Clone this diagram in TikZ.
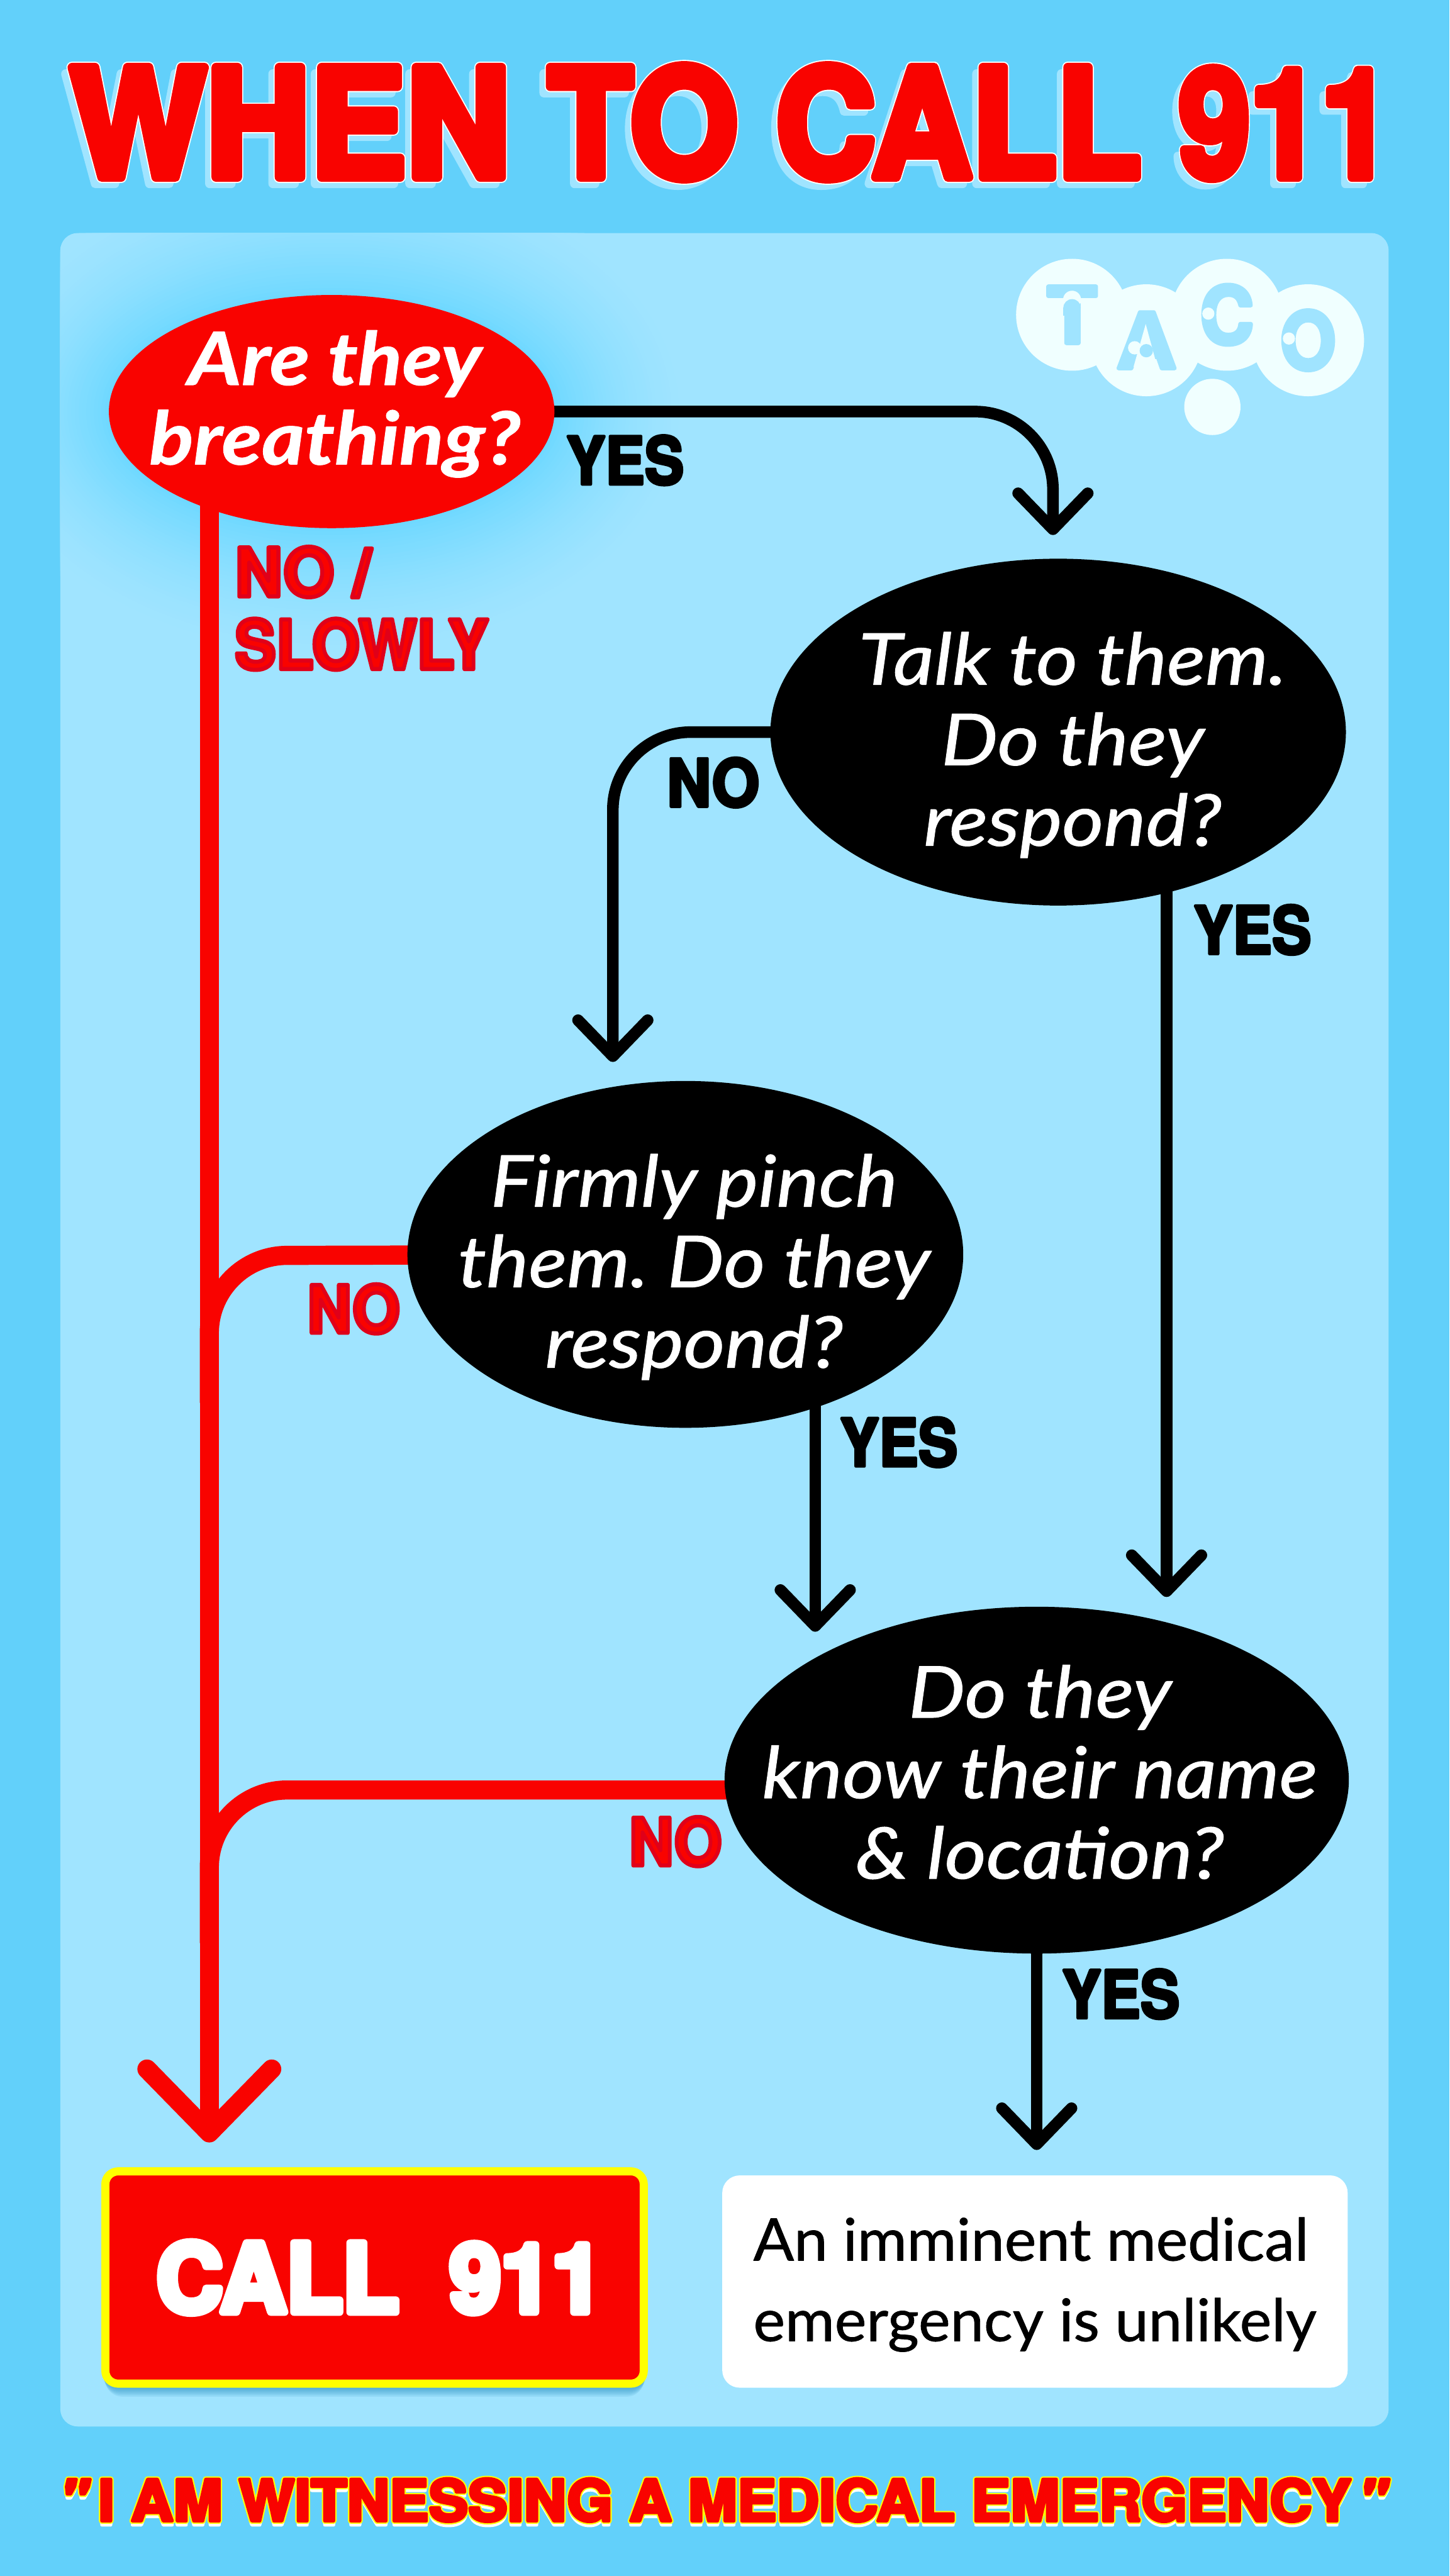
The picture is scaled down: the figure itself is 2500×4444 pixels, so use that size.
\documentclass[tikz,border=0pt]{standalone}
\usepackage{fontspec}
\usepackage{graphicx}
\usetikzlibrary{arrows.meta,shapes.geometric,calc}
\newfontfamily\hvfam{TeX Gyre Heros}[WordSpace=0.75]
\newfontfamily\hvtitle{TeX Gyre Heros}[WordSpace=0.2]
\newfontfamily\hvobl{TeX Gyre Heros}
\newfontfamily\bodyfam{Lato}[FakeStretch=1.12]
\newfontfamily\boxfam{Lato}[FakeStretch=1.025]
\newcommand\hv{\hvfam\bfseries}
\definecolor{pagebg}{HTML}{62D0FA}
\definecolor{panelbg}{HTML}{A0E4FF}
\definecolor{glowc}{HTML}{6ED8FF}
\definecolor{hotred}{HTML}{F90300}
\definecolor{logow}{HTML}{F0FFFF}
\definecolor{darkred}{HTML}{A00028}
\definecolor{sunny}{HTML}{FFFF00}
% stroked text: #1 = stroke rgb, #2 = stroke width, #3 = text
\newcommand\stk[3]{\special{pdf:code #1 RG #2 w 1 j 2 Tr}#3\special{pdf:code 0 Tr 1 w}}
\newcommand\fit[3]{\resizebox{#1\dimexpr0.01cm\relax}{#2\dimexpr0.01cm\relax}{#3}}
\newcommand\ctext[2][0cm]{\makebox[0pt][c]{\hspace*{#1}\smash{\stk{1 1 1}{0.35}{\begin{tabular}{@{}c@{}}#2\end{tabular}}}}}
\newcommand\tagtext{\hvfam\bfseries{\hvobl\bfseries\itshape"}\hspace{0.2em}I AM WITNESSING A MEDICAL EMERGENCY\hspace{0.1em}{\hvobl\bfseries\itshape"}}
\newcommand\titletext{\hvtitle\bfseries\scalebox{1.06}[1]{WHEN} \scalebox{1.02}[1]{TO} \scalebox{1.02}[1]{CALL} \scalebox{0.94}[1]{911}}
\pgfdeclarelayer{backdrop}
\pgfdeclarelayer{edges}
\pgfsetlayers{backdrop,edges,main}
\tikzset{
  x=0.01cm,y=-0.01cm,
  decision/.style={shape=ellipse,fill=black,text=white,inner sep=0pt,outer sep=0pt},
  qfont/.style={font=\bodyfam\itshape\frenchspacing\fontsize{35}{39.5}\selectfont},
  blackline/.style={line width=0.2cm,draw=black,rounded corners=1.34cm,
    -{Straight Barb[round,length=0.62cm,width=1.2cm]}},
  redline/.style={line width=0.33cm,draw=hotred,rounded corners=1.34cm},
  redshadow/.style={preaction={draw=darkred,transform canvas={yshift=-0.03cm}}},
  redtip/.style={-{Straight Barb[round,length=1.1cm,width=2.15cm]}},
  ylabel/.style={inner sep=0pt,outer sep=0pt,text=black},
  nlabel/.style={inner sep=0pt,outer sep=0pt,text=hotred},
  logoc/.style={shape=circle,fill=logow,text=panelbg,inner sep=0pt,minimum size=1.93cm},
}
\newcommand\blk[1]{\stk{0 0 0}{0.45}{\hv #1}}
\newcommand\rdl[1]{\stk{0.88 0 0.1}{0.6}{\hv #1}}
\begin{document}
\begin{tikzpicture}
\useasboundingbox (0,0) rectangle (2500,4444);
% ---------- nodes
\node[decision,fill=hotred,minimum width=7.68cm,minimum height=4.02cm] (breath) at (572,710)
  {\fontsize{36}{39}\selectfont\bodyfam\bfseries\itshape\raisebox{-0.34cm}{\ctext[0.11cm]{Are they\\breathing?}}};
\node[decision,qfont,minimum width=9.92cm,minimum height=5.98cm] (talk) at (1825,1263)
  {\raisebox{-1.02cm}{\ctext[0.5cm]{Talk to them.\\Do they\\respond?}}};
\node[decision,qfont,minimum width=9.58cm,minimum height=5.98cm] (pinch) at (1182,2164)
  {\raisebox{-1.01cm}{\ctext[0.3cm]{Firmly pinch\\them. Do they\\respond?}}};
\node[decision,qfont,minimum width=10.76cm,minimum height=5.98cm] (know) at (1788,3071)
  {\raisebox{-0.50cm}{\ctext[0.11cm]{Do they\\know their name\\\& location?}}};
\node[draw=sunny,line width=0.14cm,fill=hotred,text=white,rounded corners=0.22cm,inner sep=0pt,
  minimum width=9.28cm,minimum height=3.66cm] (call) at (646,3929)
  {\hspace*{0.18cm}\fit{770}{121}{\stk{1 1 1}{0.8}{\hv CALL\ \ 911}}};
\node[fill=white,text=black,rounded corners=0.3cm,inner sep=0pt,align=left,
  minimum width=10.78cm,minimum height=3.66cm,
  font=\boxfam\fontsize{28.8}{39.5}\selectfont] (safe) at (1785,3936)
  {\rule{0pt}{0.85cm}\stk{0 0 0}{0.25}{An imminent medical}\\\stk{0 0 0}{0.25}{emergency is unlikely}};
% arrow end points
\coordinate (tipa) at (1816,923);
\coordinate (tipb) at (1057,1832);
\coordinate (tipc) at (2012,2755);
\coordinate (tipd) at (1406,2815);
\coordinate (tipe) at (1788,3709);
\coordinate (tipf) at (361,3696);
\coordinate (joinA) at (361,2166);
\coordinate (joinB) at (361,3088);
\coordinate (endA) at (361,2420);
\coordinate (endB) at (361,3352);
% ---------- backdrop
\begin{pgfonlayer}{backdrop}
\fill[pagebg] (0,0) rectangle (2500,4444);
\fill[panelbg,rounded corners=0.3cm] (104,402) rectangle (2395,4186);
\begin{scope}
\clip[rounded corners=0.3cm] (104,402) rectangle (2395,4186);
\foreach \i in {36,35,...,0}{
  \pgfmathsetmacro\pct{100*(1-\i/36)^1.6}
  \fill[glowc!\pct!panelbg] (572,710) ellipse [x radius=384+\i*6.5, y radius=200+\i*6.5];
}
\end{scope}
\foreach \i in {1,...,6}{
  \fill[black!60!blue!55!cyan,opacity=0.09,rounded corners=0.3cm]
    (175+\i,3745+\i) rectangle (1117-\i,4119+\i*2.6);
}
\end{pgfonlayer}
% ---------- connectors
\begin{pgfonlayer}{edges}
\draw[blackline] (breath.center) -- (tipa |- breath.center) -- (tipa);
\draw[blackline] (talk.center) -- (tipb |- talk.center) -- (tipb);
\draw[blackline] (tipc |- talk.center) -- (tipc);
\draw[blackline] (tipd |- pinch.center) -- (tipd);
\draw[blackline] (tipe |- know.center) -- (tipe);
\draw[redline,redshadow] (pinch.center) -- (joinA) -- (endA);
\draw[redline,redshadow] (know.center |- joinB) -- (joinB) -- (endB);
\draw[redline,redshadow,redtip] (tipf |- breath.center) -- (tipf);
\end{pgfonlayer}
% ---------- title and tagline
\node[inner sep=0pt,text=panelbg] (titleback) at (1250,222)
  {\fit{2280}{192}{\stk{0.627 0.894 1}{0.62}{\titletext}}};
\node[inner sep=0pt,text=white] (titleedge) at (1261,211)
  {\fit{2280}{192}{\stk{1 1 1}{0.78}{\titletext}}};
\node[inner sep=0pt,text=hotred] (title) at (1261,211)
  {\fit{2280}{192}{\stk{0.976 0.012 0}{0.62}{\titletext}}};
\node[inner sep=0pt,text=white] (tagback) at (1245,4320)
  {\fit{2288}{73}{\stk{1 1 1}{0.55}{\tagtext}}};
\node[inner sep=0pt,text=sunny] (tagedge) at (1245,4313)
  {\fit{2288}{73}{\stk{1 1 0}{1.0}{\tagtext}}};
\node[inner sep=0pt,text=hotred] (tag) at (1245,4313)
  {\fit{2288}{73}{\stk{0.976 0.012 0}{0.55}{\tagtext}}};
% ---------- labels
\node[ylabel] (yes1) at (1078,794) {\fit{203}{84}{\blk{YES}}};
\node[ylabel] (yes2) at (2160,1604) {\fit{203}{84}{\blk{YES}}};
\node[ylabel] (yes3) at (1550,2488) {\fit{203}{84}{\blk{YES}}};
\node[ylabel] (yes4) at (1933,3440) {\fit{203}{84}{\blk{YES}}};
\node[ylabel] (no2) at (1230,1350) {\fit{160}{84}{\blk{NO}}};
\node[nlabel] (no3) at (610,2258) {\fit{160}{84}{\rdl{NO}}};
\node[nlabel] (no4) at (1165,3177) {\fit{160}{84}{\rdl{NO}}};
\node[nlabel,anchor=north west,align=left,font=\fontsize{10}{35.6}\selectfont] (no1) at (405,943)
  {\fit{235}{86}{\rdl{NO /}}\\\fit{438}{87}{\rdl{SLOWLY}}};
% ---------- logo
\node[logoc] (lt) at (1849,543) {\fit{86}{98}{\stk{0.627 0.894 1}{0.5}{\hv T}}};
\node[logoc] (la) at (1977,587) {\fit{103}{97}{\stk{0.627 0.894 1}{0.5}{\hv A}}};
\node[logoc] (lc) at (2116,543) {\fit{93}{102}{\stk{0.627 0.894 1}{0.5}{\hv C}}};
\node[logoc] (lo) at (2256,587) {\fit{96}{102}{\stk{0.627 0.894 1}{0.5}{\hv O}}};
\node[shape=circle,fill=logow,inner sep=0pt,minimum size=0.97cm] (ldot) at (2091,702) {};
% logo figure details
\fill[logow] (1849,517) circle (15.5);
\fill[logow] (1834,517) rectangle (1864,523);
\fill[panelbg] (1849,531) circle (15);
\fill[panelbg] (1834,531) rectangle (1864,545);
\fill[logow] (1976,559) -- (1955,633) -- (1996,633) -- cycle;
\fill[logow] (1957,600) circle (11.5);
\fill[panelbg] (1977,605) circle (11.5);
\fill[logow] (2084,541) circle (10.5);
\fill[logow] (2223,584) circle (10.5);
\end{tikzpicture}
\end{document}
